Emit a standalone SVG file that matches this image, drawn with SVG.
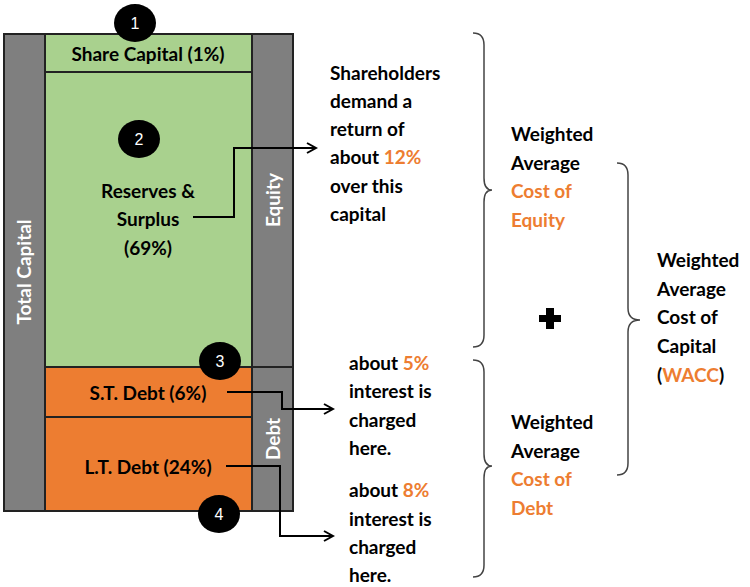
<svg xmlns="http://www.w3.org/2000/svg" width="750" height="587" viewBox="0 0 750 587">
<defs>
<marker id="ar" markerWidth="12" markerHeight="12" refX="10" refY="6" orient="auto" markerUnits="userSpaceOnUse"><path d="M1,1 L10,6 L1,11" fill="none" stroke="#000" stroke-width="2"/></marker>
</defs>
<style>
text{font-family:Lato,"Open Sans","Liberation Sans",sans-serif;font-weight:bold;font-size:19px;fill:#000}
.w{fill:#fff}
.o{fill:#ED7D31}
.c{text-anchor:middle}
.bar{fill:#7F7F7F;stroke:#222;stroke-width:2}
.g{fill:#A9D18E;stroke:#222;stroke-width:2}
.or{fill:#ED7D31;stroke:#222;stroke-width:2}
.ln{fill:none;stroke:#000;stroke-width:2}
.br{fill:none;stroke:#444;stroke-width:1.5}
.n{font-family:"Liberation Sans",sans-serif;font-weight:normal;font-size:16px;fill:#fff;text-anchor:middle}
</style>
<rect width="750" height="587" fill="#fff"/>
<g id="total"><rect class="bar" x="4" y="34" width="41" height="477"/><text class="w c" transform="translate(31,272) rotate(-90)">Total Capital</text></g>
<g id="share"><rect class="g" x="45" y="34" width="207" height="38"/><text class="c" x="148" y="61">Share Capital (1%)</text></g>
<g id="reserves"><rect class="g" x="45" y="72" width="207" height="295"/><text class="c" x="148" y="198">Reserves &amp;</text><text class="c" x="148" y="226">Surplus</text><text class="c" x="148" y="255">(69%)</text></g>
<g id="std"><rect class="or" x="45" y="367" width="207" height="50"/><text class="c" x="148" y="400">S.T. Debt (6%)</text></g>
<g id="ltd"><rect class="or" x="45" y="417" width="207" height="94"/><text class="c" x="148" y="474">L.T. Debt (24%)</text></g>
<g id="equity"><rect class="bar" x="252" y="34" width="41" height="333"/><text class="w c" transform="translate(280,200) rotate(-90)">Equity</text></g>
<g id="debt"><rect class="bar" x="252" y="367" width="41" height="144"/><text class="w c" transform="translate(280,439) rotate(-90)">Debt</text></g>
<g id="n1"><ellipse cx="135" cy="23" rx="21" ry="19"/><text class="n" x="135" y="29">1</text></g>
<g id="n2"><ellipse cx="139" cy="139" rx="21" ry="19"/><text class="n" x="139" y="145">2</text></g>
<g id="n3"><ellipse cx="220" cy="361" rx="21" ry="19"/><text class="n" x="220" y="367">3</text></g>
<g id="n4"><ellipse cx="219" cy="514" rx="21" ry="19"/><text class="n" x="219" y="520">4</text></g>
<g id="connectors">
<path class="ln" d="M193,217 H234 V148 H316" marker-end="url(#ar)"/>
<path class="ln" d="M227,392 H282 V409 H333" marker-end="url(#ar)"/>
<path class="ln" d="M226,466 H280 V536 H333" marker-end="url(#ar)"/>
<path class="br" d="M473,33 Q484,33 484,45 V178 Q484,190 492,190 Q484,190 484,202 V335 Q484,347 473,347"/>
<path class="br" d="M473,360 Q484,360 484,372 V454 Q484,466 492,466 Q484,466 484,478 V565 Q484,577 473,577"/>
<path class="br" d="M617,163 Q628,163 628,175 V308 Q628,320 640,320 Q628,320 628,332 V463 Q628,475 617,475"/>
</g>
<g id="plus"><rect x="539" y="315" width="22" height="7"/><rect x="546" y="308" width="8" height="21"/></g>
<g id="eqtext"><text x="330" y="80">Shareholders</text><text x="330" y="108">demand a</text><text x="330" y="136">return of</text><text x="330" y="164">about <tspan class="o">12%</tspan></text><text x="330" y="193">over this</text><text x="330" y="221">capital</text></g>
<g id="wce"><text x="511" y="141">Weighted</text><text x="511" y="170">Average</text><text class="o" x="511" y="198">Cost of</text><text class="o" x="511" y="227">Equity</text></g>
<g id="wcd"><text x="511" y="429">Weighted</text><text x="511" y="458">Average</text><text class="o" x="511" y="486">Cost of</text><text class="o" x="511" y="515">Debt</text></g>
<g id="wacc"><text x="657" y="267">Weighted</text><text x="657" y="296">Average</text><text x="657" y="324">Cost of</text><text x="657" y="353">Capital</text><text x="657" y="382">(<tspan class="o">WACC</tspan>)</text></g>
<g id="st"><text x="349" y="370">about <tspan class="o">5%</tspan></text><text x="349" y="398">interest is</text><text x="349" y="427">charged</text><text x="349" y="455">here.</text></g>
<g id="lt"><text x="349" y="497">about <tspan class="o">8%</tspan></text><text x="349" y="526">interest is</text><text x="349" y="554">charged</text><text x="349" y="582">here.</text></g>
</svg>
